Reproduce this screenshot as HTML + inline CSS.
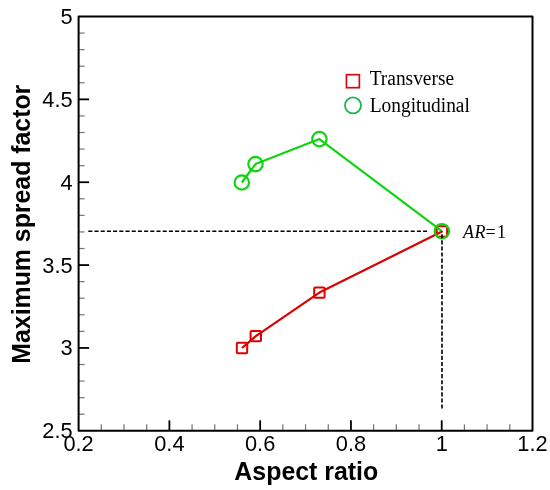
<!DOCTYPE html>
<html><head><meta charset="utf-8"><style>
html,body{margin:0;padding:0;background:#fff;}
svg{display:block;}
.tk{font-family:"Liberation Sans",Arial,sans-serif;font-size:21.8px;fill:#000;}
.lg{font-family:"Liberation Serif","Times New Roman",serif;font-size:19.7px;fill:#000;}
.ax{font-family:"Liberation Sans",Arial,sans-serif;font-size:25px;font-weight:bold;fill:#000;}
</style></head><body>
<svg width="550" height="490" viewBox="0 0 550 490">
<rect width="550" height="490" fill="#fff"/>
<line x1="101.29" y1="430.8" x2="101.29" y2="424.3" stroke="#747474" stroke-width="1.2"/>
<line x1="123.99" y1="430.8" x2="123.99" y2="424.3" stroke="#747474" stroke-width="1.2"/>
<line x1="146.69" y1="430.8" x2="146.69" y2="424.3" stroke="#747474" stroke-width="1.2"/>
<line x1="169.38" y1="430.8" x2="169.38" y2="420.3" stroke="#000" stroke-width="1.8"/>
<line x1="192.07" y1="430.8" x2="192.07" y2="424.3" stroke="#747474" stroke-width="1.2"/>
<line x1="214.77" y1="430.8" x2="214.77" y2="424.3" stroke="#747474" stroke-width="1.2"/>
<line x1="237.47" y1="430.8" x2="237.47" y2="424.3" stroke="#747474" stroke-width="1.2"/>
<line x1="260.16" y1="430.8" x2="260.16" y2="420.3" stroke="#000" stroke-width="1.8"/>
<line x1="282.86" y1="430.8" x2="282.86" y2="424.3" stroke="#747474" stroke-width="1.2"/>
<line x1="305.55" y1="430.8" x2="305.55" y2="424.3" stroke="#747474" stroke-width="1.2"/>
<line x1="328.25" y1="430.8" x2="328.25" y2="424.3" stroke="#747474" stroke-width="1.2"/>
<line x1="350.94" y1="430.8" x2="350.94" y2="420.3" stroke="#000" stroke-width="1.8"/>
<line x1="373.63" y1="430.8" x2="373.63" y2="424.3" stroke="#747474" stroke-width="1.2"/>
<line x1="396.33" y1="430.8" x2="396.33" y2="424.3" stroke="#747474" stroke-width="1.2"/>
<line x1="419.02" y1="430.8" x2="419.02" y2="424.3" stroke="#747474" stroke-width="1.2"/>
<line x1="441.72" y1="430.8" x2="441.72" y2="420.3" stroke="#000" stroke-width="1.8"/>
<line x1="464.41" y1="430.8" x2="464.41" y2="424.3" stroke="#747474" stroke-width="1.2"/>
<line x1="487.11" y1="430.8" x2="487.11" y2="424.3" stroke="#747474" stroke-width="1.2"/>
<line x1="509.81" y1="430.8" x2="509.81" y2="424.3" stroke="#747474" stroke-width="1.2"/>
<line x1="78.6" y1="414.23" x2="84.6" y2="414.23" stroke="#747474" stroke-width="1.2"/>
<line x1="78.6" y1="397.66" x2="84.6" y2="397.66" stroke="#747474" stroke-width="1.2"/>
<line x1="78.6" y1="381.08" x2="84.6" y2="381.08" stroke="#747474" stroke-width="1.2"/>
<line x1="78.6" y1="364.51" x2="84.6" y2="364.51" stroke="#747474" stroke-width="1.2"/>
<line x1="78.6" y1="347.94" x2="89.1" y2="347.94" stroke="#000" stroke-width="1.8"/>
<line x1="78.6" y1="331.37" x2="84.6" y2="331.37" stroke="#747474" stroke-width="1.2"/>
<line x1="78.6" y1="314.80" x2="84.6" y2="314.80" stroke="#747474" stroke-width="1.2"/>
<line x1="78.6" y1="298.22" x2="84.6" y2="298.22" stroke="#747474" stroke-width="1.2"/>
<line x1="78.6" y1="281.65" x2="84.6" y2="281.65" stroke="#747474" stroke-width="1.2"/>
<line x1="78.6" y1="265.08" x2="89.1" y2="265.08" stroke="#000" stroke-width="1.8"/>
<line x1="78.6" y1="248.51" x2="84.6" y2="248.51" stroke="#747474" stroke-width="1.2"/>
<line x1="78.6" y1="231.94" x2="84.6" y2="231.94" stroke="#747474" stroke-width="1.2"/>
<line x1="78.6" y1="215.36" x2="84.6" y2="215.36" stroke="#747474" stroke-width="1.2"/>
<line x1="78.6" y1="198.79" x2="84.6" y2="198.79" stroke="#747474" stroke-width="1.2"/>
<line x1="78.6" y1="182.22" x2="89.1" y2="182.22" stroke="#000" stroke-width="1.8"/>
<line x1="78.6" y1="165.65" x2="84.6" y2="165.65" stroke="#747474" stroke-width="1.2"/>
<line x1="78.6" y1="149.08" x2="84.6" y2="149.08" stroke="#747474" stroke-width="1.2"/>
<line x1="78.6" y1="132.50" x2="84.6" y2="132.50" stroke="#747474" stroke-width="1.2"/>
<line x1="78.6" y1="115.93" x2="84.6" y2="115.93" stroke="#747474" stroke-width="1.2"/>
<line x1="78.6" y1="99.36" x2="89.1" y2="99.36" stroke="#000" stroke-width="1.8"/>
<line x1="78.6" y1="82.79" x2="84.6" y2="82.79" stroke="#747474" stroke-width="1.2"/>
<line x1="78.6" y1="66.22" x2="84.6" y2="66.22" stroke="#747474" stroke-width="1.2"/>
<line x1="78.6" y1="49.64" x2="84.6" y2="49.64" stroke="#747474" stroke-width="1.2"/>
<line x1="78.6" y1="33.07" x2="84.6" y2="33.07" stroke="#747474" stroke-width="1.2"/>
<path d="M78.6,16.5H532.5V430.8H78.6Z" fill="none" stroke="#000" stroke-width="2" stroke-linejoin="round"/>
<text x="78.60" y="451" text-anchor="middle" class="tk">0.2</text>
<text x="169.38" y="451" text-anchor="middle" class="tk">0.4</text>
<text x="260.16" y="451" text-anchor="middle" class="tk">0.6</text>
<text x="350.94" y="451" text-anchor="middle" class="tk">0.8</text>
<text x="441.72" y="451" text-anchor="middle" class="tk">1</text>
<text x="532.50" y="451" text-anchor="middle" class="tk">1.2</text>
<text x="72.6" y="438.30" text-anchor="end" class="tk">2.5</text>
<text x="72.6" y="355.44" text-anchor="end" class="tk">3</text>
<text x="72.6" y="272.58" text-anchor="end" class="tk">3.5</text>
<text x="72.6" y="189.72" text-anchor="end" class="tk">4</text>
<text x="72.6" y="106.86" text-anchor="end" class="tk">4.5</text>
<text x="72.6" y="24.00" text-anchor="end" class="tk">5</text>
<line x1="88.3" y1="231.3" x2="428.3" y2="231.3" stroke="#000" stroke-width="1.6" stroke-dasharray="4.05 2.15"/>
<polyline points="242.0,348.0 255.8,336.1 319.4,292.6 441.9,231.5" fill="none" stroke="#dd0000" stroke-width="2.2" stroke-linejoin="round"/>
<rect x="236.80" y="342.80" width="10.4" height="10.4" rx="1" fill="none" stroke="#dd0000" stroke-width="2"/>
<rect x="250.60" y="330.90" width="10.4" height="10.4" rx="1" fill="none" stroke="#dd0000" stroke-width="2"/>
<rect x="314.20" y="287.40" width="10.4" height="10.4" rx="1" fill="none" stroke="#dd0000" stroke-width="2"/>
<rect x="436.70" y="226.30" width="10.4" height="10.4" rx="1" fill="none" stroke="#dd0000" stroke-width="2"/>
<polyline points="241.8,182.5 255.5,164.1 319.4,139.1 441.9,231.2" fill="none" stroke="#10d410" stroke-width="2.2" stroke-linejoin="round"/>
<circle cx="241.8" cy="182.5" r="7.2" fill="none" stroke="#10d410" stroke-width="2.2"/>
<circle cx="255.5" cy="164.1" r="7.2" fill="none" stroke="#10d410" stroke-width="2.2"/>
<circle cx="319.4" cy="139.1" r="7.2" fill="none" stroke="#10d410" stroke-width="2.2"/>
<circle cx="441.9" cy="231.2" r="7.2" fill="none" stroke="#10d410" stroke-width="2.2"/>
<line x1="442" y1="408.6" x2="442" y2="231.3" stroke="#000" stroke-width="1.6" stroke-dasharray="4.1 1.98"/>
<rect x="346.45" y="74.7" width="12.9" height="13.0" fill="none" stroke="#d20a18" stroke-width="1.7"/>
<circle cx="353" cy="105.4" r="8" fill="none" stroke="#1cb45a" stroke-width="1.8"/>
<text transform="translate(369.7,85.1) scale(0.96,1)" x="0" y="0" class="lg" style="font-size:20.2px">Transverse</text>
<text transform="translate(369.7,111.6) scale(0.96,1)" x="0" y="0" class="lg" style="font-size:20.2px">Longitudinal</text>
<text x="462.9 474.5" y="237.6" class="lg" style="font-size:18px"><tspan font-style="italic">AR</tspan><tspan x="485.6 496.9">=1</tspan></text>
<text x="306.3" y="480" text-anchor="middle" class="ax" style="font-size:24.9px">Aspect ratio</text>
<text transform="translate(29.6,224.2) rotate(-90)" x="0" y="0" text-anchor="middle" class="ax" style="font-size:24.85px">Maximum spread factor</text>
</svg>
</body></html>
